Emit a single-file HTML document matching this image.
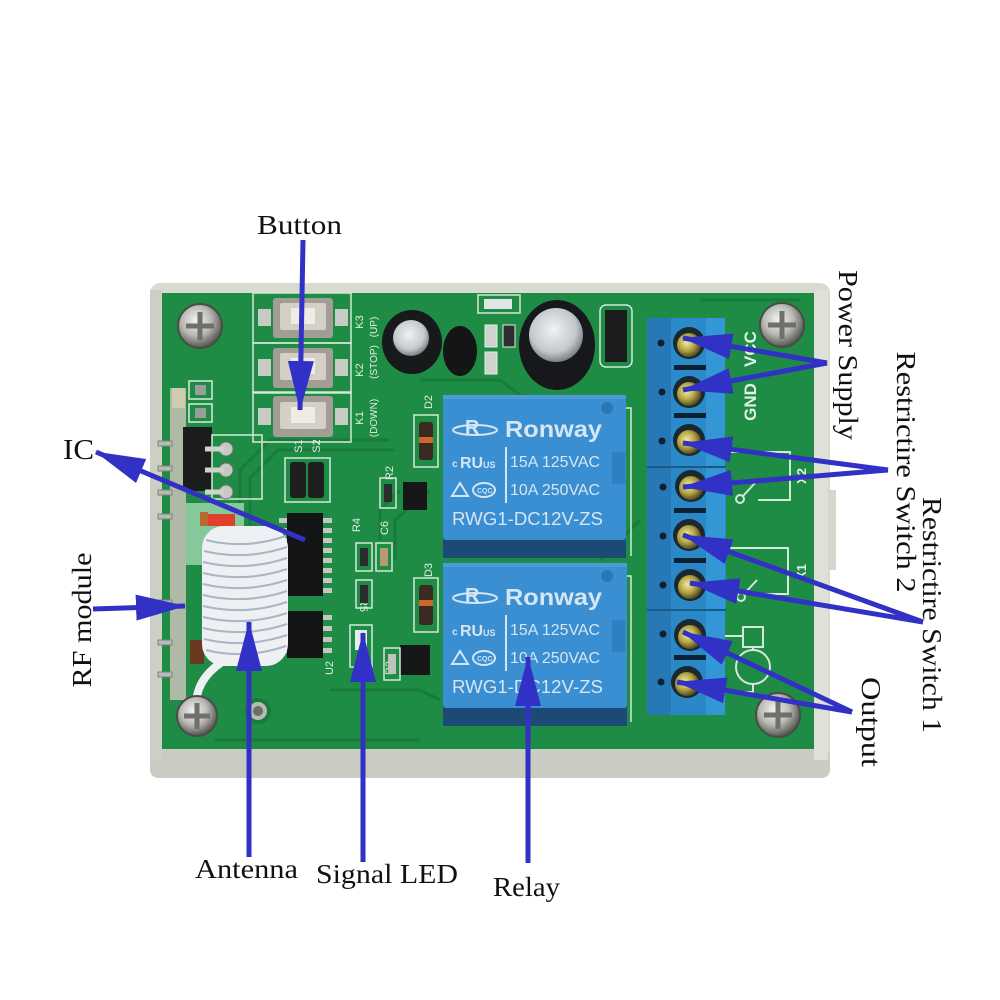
<!DOCTYPE html>
<html><head><meta charset="utf-8">
<style>html,body{margin:0;padding:0;background:#fff;width:1000px;height:1000px;overflow:hidden}svg{display:block}</style>
</head>
<body>
<svg width="1000" height="1000" viewBox="0 0 1000 1000" xmlns="http://www.w3.org/2000/svg">
<defs>
<radialGradient id="screw" cx="42%" cy="38%" r="62%"><stop offset="0" stop-color="#f4f4f2"/><stop offset="0.55" stop-color="#b9b9b4"/><stop offset="1" stop-color="#55554f"/></radialGradient>
<radialGradient id="gold" cx="40%" cy="40%" r="62%"><stop offset="0" stop-color="#f2ea9a"/><stop offset="0.55" stop-color="#b4a444"/><stop offset="1" stop-color="#4c4620"/></radialGradient>
<radialGradient id="capTop" cx="45%" cy="40%" r="60%"><stop offset="0" stop-color="#f0f2f4"/><stop offset="0.7" stop-color="#c4c8cc"/><stop offset="1" stop-color="#7c8086"/></radialGradient>
<marker id="ah" viewBox="0 0 50 26" refX="49" refY="13" markerWidth="50" markerHeight="26" orient="auto" markerUnits="userSpaceOnUse"><path d="M0,0L50,13L0,26z" fill="#3131c6"/></marker>
</defs>

<!-- enclosure -->
<rect x="150" y="283" width="680" height="495" rx="10" fill="#d8dbd0"/>
<rect x="826" y="490" width="10" height="80" fill="#d4d7cc"/>
<rect x="150" y="748" width="680" height="30" rx="8" fill="#c9ccc2"/>
<rect x="150" y="290" width="12" height="470" fill="#cbcfc4"/>
<rect x="814" y="290" width="14" height="470" fill="#dfe1d8"/>

<!-- PCB -->
<rect x="162" y="293" width="652" height="456" fill="#1e8c44"/>
<g stroke="#187b3a" stroke-width="3" fill="none">
<path d="M240,520 L240,470 L270,440 L390,440"/>
<path d="M250,530 L250,478 L278,450 L395,450"/>
<path d="M380,540 L380,510 L400,490"/>
<path d="M395,560 L395,520 L430,490"/>
<path d="M330,690 L420,690 L440,700"/>
<path d="M600,560 L640,520"/>
<path d="M420,380 L500,380 L520,395"/>
<path d="M700,300 L800,300"/>
<path d="M215,740 L420,740"/>
</g>

<!-- RF module side strip -->
<rect x="170" y="388" width="16" height="312" fill="#aebaa6"/>
<rect x="172" y="388" width="13" height="20" fill="#cfcbb0"/>
<g fill="#b8bab6" stroke="#7f837e" stroke-width="1">
<rect x="158" y="441" width="14" height="5"/><rect x="158" y="466" width="14" height="5"/>
<rect x="158" y="490" width="14" height="5"/><rect x="158" y="514" width="14" height="5"/>
<rect x="158" y="600" width="14" height="5"/><rect x="158" y="640" width="14" height="5"/>
<rect x="158" y="672" width="14" height="5"/>
</g>
<!-- pads top left -->
<rect x="189" y="381" width="23" height="18" fill="none" stroke="#d9eadc" stroke-width="1.5"/>
<rect x="195" y="385" width="11" height="10" fill="#9a9e98"/>
<rect x="189" y="404" width="23" height="18" fill="none" stroke="#d9eadc" stroke-width="1.5"/>
<rect x="195" y="408" width="11" height="10" fill="#9a9e98"/>
<!-- header -->
<rect x="183" y="427" width="29" height="64" fill="#1b1d1c"/>
<rect x="212" y="435" width="50" height="64" fill="none" stroke="#d9eadc" stroke-width="1.5"/>
<g fill="#c6c8c2" stroke="#6e726d"><circle cx="226" cy="449" r="7"/><circle cx="226" cy="470" r="7"/><circle cx="226" cy="492" r="7"/></g>
<g stroke="#d0d2cc" stroke-width="5"><line x1="205" y1="449" x2="224" y2="449"/><line x1="205" y1="470" x2="224" y2="470"/><line x1="205" y1="492" x2="224" y2="492"/></g>
<!-- light green RF block -->
<rect x="186" y="503" width="58" height="62" fill="#84c89c"/>
<rect x="205" y="514" width="30" height="12" fill="#e0402a"/>
<rect x="200" y="512" width="8" height="14" fill="#b86a30"/>
<rect x="190" y="640" width="14" height="24" fill="#6a3a20"/>

<!-- buttons -->
<g>
<rect x="253" y="293" width="98" height="50" fill="none" stroke="#d6e8da" stroke-width="1.5"/>
<rect x="258" y="309" width="13" height="17" fill="#c8cac4"/><rect x="335" y="309" width="13" height="17" fill="#c8cac4"/>
<rect x="273" y="298" width="60" height="40" rx="3" fill="#a29e96"/>
<rect x="280" y="303" width="46" height="27" rx="2" fill="#d4d0c8"/>
<rect x="291" y="308" width="24" height="16" fill="#efebe5"/>
</g>
<g>
<rect x="253" y="343" width="98" height="50" fill="none" stroke="#d6e8da" stroke-width="1.5"/>
<rect x="258" y="359" width="13" height="17" fill="#c8cac4"/><rect x="335" y="359" width="13" height="17" fill="#c8cac4"/>
<rect x="273" y="348" width="60" height="40" rx="3" fill="#a29e96"/>
<rect x="280" y="353" width="46" height="27" rx="2" fill="#d4d0c8"/>
<rect x="291" y="358" width="24" height="16" fill="#efebe5"/>
</g>
<g>
<rect x="253" y="392" width="98" height="50" fill="none" stroke="#d6e8da" stroke-width="1.5"/>
<rect x="258" y="408" width="13" height="17" fill="#c8cac4"/><rect x="335" y="408" width="13" height="17" fill="#c8cac4"/>
<rect x="273" y="396" width="60" height="41" rx="3" fill="#a29e96"/>
<rect x="280" y="402" width="46" height="27" rx="2" fill="#d4d0c8"/>
<rect x="291" y="407" width="24" height="16" fill="#efebe5"/>
</g>
<g font-family="Liberation Sans, sans-serif" font-size="11" fill="#e2f0e5" text-anchor="middle">
<text transform="translate(363,322) rotate(-90)">K3</text>
<text transform="translate(377,327) rotate(-90)" font-size="10">(UP)</text>
<text transform="translate(363,370) rotate(-90)">K2</text>
<text transform="translate(377,362) rotate(-90)" font-size="10">(STOP)</text>
<text transform="translate(363,418) rotate(-90)">K1</text>
<text transform="translate(377,418) rotate(-90)" font-size="10">(DOWN)</text>
<text transform="translate(302,446) rotate(-90)">S1</text>
<text transform="translate(320,446) rotate(-90)">S2</text>
<text transform="translate(360,525) rotate(-90)">R4</text>
<text transform="translate(388,528) rotate(-90)">C6</text>
<text transform="translate(360,605) rotate(90)">R5</text>
<text transform="translate(333,668) rotate(-90)">U2</text>
<text transform="translate(432,402) rotate(-90)">D2</text>
<text transform="translate(432,570) rotate(-90)">D3</text>
<text transform="translate(393,668) rotate(-90)">R3</text>
<text transform="translate(393,473) rotate(-90)">R2</text>
</g>

<!-- jumpers -->
<rect x="285" y="458" width="45" height="44" fill="none" stroke="#d6e8da" stroke-width="1.5"/>
<rect x="290" y="462" width="16" height="36" rx="3" fill="#1c1e20"/>
<rect x="308" y="462" width="16" height="36" rx="3" fill="#1c1e20"/>

<!-- top components -->
<ellipse cx="412" cy="342" rx="30" ry="32" fill="#17191b"/>
<circle cx="411" cy="338" r="18" fill="url(#capTop)"/>
<ellipse cx="460" cy="351" rx="17" ry="25" fill="#141517"/>
<rect x="478" y="295" width="42" height="18" fill="none" stroke="#d6e8da" stroke-width="1.5"/>
<rect x="484" y="299" width="28" height="10" fill="#dfe4e4"/>
<rect x="485" y="325" width="12" height="22" fill="#d0d2cc" stroke="#e2efe6"/>
<rect x="485" y="352" width="12" height="22" fill="#d0d2cc" stroke="#e2efe6"/>
<rect x="503" y="325" width="12" height="22" fill="#2c2e30" stroke="#e2efe6"/>
<ellipse cx="557" cy="345" rx="38" ry="45" fill="#16181b"/>
<circle cx="556" cy="335" r="27" fill="url(#capTop)"/>
<rect x="600" y="305" width="32" height="62" rx="6" fill="none" stroke="#d6e8da" stroke-width="1.5"/>
<rect x="605" y="310" width="22" height="52" fill="#1a1c1e"/>

<!-- diodes / transistors -->
<rect x="414" y="415" width="24" height="52" fill="none" stroke="#d6e8da" stroke-width="1.5"/>
<rect x="419" y="422" width="14" height="38" rx="3" fill="#3a2a22"/><rect x="419" y="437" width="14" height="6" fill="#d2642c"/>
<rect x="414" y="578" width="24" height="54" fill="none" stroke="#d6e8da" stroke-width="1.5"/>
<rect x="419" y="585" width="14" height="40" rx="3" fill="#3a2a22"/><rect x="419" y="600" width="14" height="6" fill="#d2642c"/>
<rect x="380" y="478" width="16" height="30" fill="none" stroke="#d6e8da" stroke-width="1.5"/>
<rect x="384" y="484" width="8" height="18" fill="#2a2c2e"/>
<rect x="403" y="482" width="24" height="28" fill="#151618"/>
<rect x="400" y="645" width="30" height="30" fill="#151618"/>
<rect x="384" y="648" width="16" height="32" fill="none" stroke="#d6e8da" stroke-width="1.5"/>
<rect x="388" y="654" width="8" height="20" fill="#c0c2bc"/>
<!-- signal LED -->
<rect x="350" y="625" width="22" height="42" fill="none" stroke="#d6e8da" stroke-width="1.5"/>
<rect x="355" y="630" width="12" height="20" fill="#e8ecee"/>
<!-- small R/C -->
<rect x="356" y="543" width="16" height="28" fill="none" stroke="#d6e8da" stroke-width="1.5"/>
<rect x="360" y="548" width="8" height="18" fill="#2a2c2e"/>
<rect x="376" y="543" width="16" height="28" fill="none" stroke="#d6e8da" stroke-width="1.5"/>
<rect x="380" y="548" width="8" height="18" fill="#b89a70"/>
<rect x="356" y="580" width="16" height="28" fill="none" stroke="#d6e8da" stroke-width="1.5"/>
<rect x="360" y="585" width="8" height="18" fill="#2a2c2e"/>

<!-- ICs -->
<g fill="#c4c6c0">
<rect x="279" y="518" width="9" height="5"/><rect x="279" y="528" width="9" height="5"/><rect x="279" y="538" width="9" height="5"/><rect x="279" y="548" width="9" height="5"/>
<rect x="279" y="558" width="9" height="5"/><rect x="279" y="568" width="9" height="5"/><rect x="279" y="578" width="9" height="5"/><rect x="279" y="588" width="9" height="5"/>
<rect x="322" y="518" width="10" height="5"/><rect x="322" y="528" width="10" height="5"/><rect x="322" y="538" width="10" height="5"/><rect x="322" y="548" width="10" height="5"/>
<rect x="322" y="558" width="10" height="5"/><rect x="322" y="568" width="10" height="5"/><rect x="322" y="578" width="10" height="5"/><rect x="322" y="588" width="10" height="5"/>
<rect x="279" y="615" width="9" height="5"/><rect x="279" y="626" width="9" height="5"/><rect x="279" y="637" width="9" height="5"/><rect x="279" y="648" width="9" height="5"/>
<rect x="322" y="615" width="10" height="5"/><rect x="322" y="626" width="10" height="5"/><rect x="322" y="637" width="10" height="5"/><rect x="322" y="648" width="10" height="5"/>
</g>
<rect x="287" y="513" width="36" height="83" fill="#131416"/>
<rect x="287" y="611" width="36" height="47" fill="#131416"/>

<!-- coil antenna -->
<rect x="202" y="526" width="86" height="140" rx="22" fill="#eef0f3"/>
<g stroke="#a9b6c6" stroke-width="2" fill="none">
<path d="M206,540 Q245,550 286,536"/><path d="M204,551 Q245,561 287,547"/><path d="M203,562 Q245,572 287,558"/>
<path d="M203,573 Q245,583 287,569"/><path d="M203,584 Q245,594 287,580"/><path d="M203,595 Q245,605 287,591"/>
<path d="M203,606 Q245,616 287,602"/><path d="M203,617 Q245,627 287,613"/><path d="M203,628 Q245,638 287,624"/>
<path d="M204,639 Q245,649 287,635"/><path d="M206,650 Q245,660 286,646"/>
</g>
<path d="M222,662 Q195,680 196,708" stroke="#eef0f3" stroke-width="8" fill="none"/>

<!-- mounting hole -->
<circle cx="258" cy="711" r="13" fill="#1a7a3c"/>
<circle cx="258" cy="711" r="9" fill="#b8bab4"/>
<circle cx="258" cy="711" r="5" fill="#6a6e68"/>

<!-- screws -->
<g>
<circle cx="200" cy="326" r="22" fill="url(#screw)" stroke="#4a4c48" stroke-width="2"/>
<path d="M186,326 L214,326 M200,312 L200,340" stroke="#6e706c" stroke-width="5"/>
<circle cx="782" cy="325" r="22" fill="url(#screw)" stroke="#4a4c48" stroke-width="2"/>
<path d="M768,325 L796,325 M782,311 L782,339" stroke="#6e706c" stroke-width="5"/>
<circle cx="197" cy="716" r="20" fill="url(#screw)" stroke="#4a4c48" stroke-width="2"/>
<path d="M184,716 L210,716 M197,703 L197,729" stroke="#6e706c" stroke-width="5"/>
<circle cx="778" cy="715" r="22" fill="url(#screw)" stroke="#4a4c48" stroke-width="2"/>
<path d="M764,715 L792,715 M778,701 L778,729" stroke="#6e706c" stroke-width="5"/>
</g>

<!-- relay outlines -->
<path d="M626,408 L631,408 L631,556" stroke="#d6e8da" stroke-width="1.5" fill="none"/>
<path d="M626,576 L631,576 L631,722" stroke="#d6e8da" stroke-width="1.5" fill="none"/>

<!-- relays -->
<g id="relay1">
<rect x="443" y="536" width="183" height="22" fill="#1c4a74"/>
<rect x="443" y="395" width="183" height="145" rx="3" fill="#3a8fd2"/>
<rect x="443" y="395" width="183" height="4" fill="#4b9bdc"/>
<circle cx="607" cy="408" r="6" fill="#2b77b6"/>
<rect x="612" y="452" width="13" height="32" fill="#2f7fc2"/>
<g fill="#d6e5f2" font-family="Liberation Sans, sans-serif">
<ellipse cx="475" cy="430" rx="22" ry="5" fill="none" stroke="#d6e5f2" stroke-width="2"/>
<text x="465" y="434" font-size="20" font-weight="bold">R</text>
<text x="505" y="437" font-size="23" font-weight="bold" textLength="97" lengthAdjust="spacingAndGlyphs">Ronway</text>
<text x="452" y="467" font-size="10" font-weight="bold">c</text>
<text x="460" y="468" font-size="16" font-weight="bold">RU</text>
<text x="483" y="468" font-size="9" font-weight="bold">US</text>
<path d="M452,496 L460,483 L468,496 Z" fill="none" stroke="#d6e5f2" stroke-width="2"/>
<ellipse cx="484" cy="490" rx="11" ry="7" fill="none" stroke="#d6e5f2" stroke-width="2"/>
<text x="477" y="493" font-size="7" font-weight="bold">CQC</text>
<rect x="505" y="447" width="2" height="56"/>
<text x="510" y="467" font-size="16" textLength="90" lengthAdjust="spacingAndGlyphs">15A 125VAC</text>
<text x="510" y="495" font-size="16" textLength="90" lengthAdjust="spacingAndGlyphs">10A 250VAC</text>
<text x="452" y="525" font-size="18" textLength="151" lengthAdjust="spacingAndGlyphs">RWG1-DC12V-ZS</text>
</g>
</g>
<g transform="translate(0,168)">
<rect x="443" y="536" width="184" height="22" fill="#1c4a74"/>
<rect x="443" y="395" width="184" height="145" rx="3" fill="#3a8fd2"/>
<rect x="443" y="395" width="184" height="4" fill="#4b9bdc"/>
<circle cx="607" cy="408" r="6" fill="#2b77b6"/>
<rect x="612" y="452" width="13" height="32" fill="#2f7fc2"/>
<g fill="#d6e5f2" font-family="Liberation Sans, sans-serif">
<ellipse cx="475" cy="430" rx="22" ry="5" fill="none" stroke="#d6e5f2" stroke-width="2"/>
<text x="465" y="434" font-size="20" font-weight="bold">R</text>
<text x="505" y="437" font-size="23" font-weight="bold" textLength="97" lengthAdjust="spacingAndGlyphs">Ronway</text>
<text x="452" y="467" font-size="10" font-weight="bold">c</text>
<text x="460" y="468" font-size="16" font-weight="bold">RU</text>
<text x="483" y="468" font-size="9" font-weight="bold">US</text>
<path d="M452,496 L460,483 L468,496 Z" fill="none" stroke="#d6e5f2" stroke-width="2"/>
<ellipse cx="484" cy="490" rx="11" ry="7" fill="none" stroke="#d6e5f2" stroke-width="2"/>
<text x="477" y="493" font-size="7" font-weight="bold">CQC</text>
<rect x="505" y="447" width="2" height="56"/>
<text x="510" y="467" font-size="16" textLength="90" lengthAdjust="spacingAndGlyphs">15A 125VAC</text>
<text x="510" y="495" font-size="16" textLength="90" lengthAdjust="spacingAndGlyphs">10A 250VAC</text>
<text x="452" y="525" font-size="18" textLength="151" lengthAdjust="spacingAndGlyphs">RWG1-DC12V-ZS</text>
</g>
</g>

<!-- silkscreen right -->
<g stroke="#d6e8da" stroke-width="2" fill="none">
<path d="M727,452 L790,452 L790,500 L758,500"/>
<circle cx="740" cy="499" r="4"/><path d="M743,496 L756,482"/>
<path d="M727,548 L788,548 L788,594 L760,594"/>
<circle cx="741" cy="597" r="4"/><path d="M744,594 L757,580"/>
<circle cx="753" cy="667" r="17"/>
<rect x="743" y="627" width="20" height="20"/>
<path d="M722,636 L743,636 M722,692 L753,692 L753,684 M753,647 L753,650"/>
</g>
<g font-family="Liberation Sans, sans-serif" font-weight="bold" fill="#e4f1e8" font-size="17">
<text transform="translate(756,349) rotate(-90)" text-anchor="middle">VCC</text>
<text transform="translate(756,402) rotate(-90)" text-anchor="middle">GND</text>
<text transform="translate(806,476) rotate(-90)" text-anchor="middle" font-size="13">X2</text>
<text transform="translate(806,572) rotate(-90)" text-anchor="middle" font-size="13">X1</text>
</g>

<!-- terminal block -->
<rect x="647" y="318" width="78" height="150" fill="#2b8bca"/>
<rect x="648" y="467" width="78" height="143" fill="#2a88c6"/>
<rect x="648" y="610" width="76" height="105" fill="#2a88c6"/>
<rect x="647" y="318" width="24" height="397" fill="#2679b4"/>
<rect x="706" y="318" width="19" height="397" fill="#3497d5"/>
<rect x="647" y="466" width="79" height="2" fill="#1a5a88"/>
<rect x="647" y="609" width="79" height="2" fill="#1a5a88"/>
<g fill="#0c2232">
<rect x="674" y="365" width="32" height="5"/><rect x="674" y="413" width="32" height="5"/>
<rect x="674" y="508" width="32" height="5"/><rect x="674" y="558" width="32" height="5"/>
<rect x="674" y="655" width="32" height="5"/>
<circle cx="661" cy="343" r="3.5"/><circle cx="662" cy="392" r="3.5"/><circle cx="662" cy="441" r="3.5"/>
<circle cx="663" cy="487" r="3.5"/><circle cx="663" cy="536" r="3.5"/><circle cx="663" cy="585" r="3.5"/>
<circle cx="663" cy="634" r="3.5"/><circle cx="661" cy="682" r="3.5"/>
</g>
<g>
<circle cx="689" cy="343" r="16" fill="#1a2830"/><circle cx="689" cy="345" r="12" fill="url(#gold)"/>
<circle cx="689" cy="392" r="16" fill="#1a2830"/><circle cx="689" cy="394" r="12" fill="url(#gold)"/>
<circle cx="689" cy="440" r="16" fill="#1a2830"/><circle cx="689" cy="442" r="12" fill="url(#gold)"/>
<circle cx="691" cy="486" r="16" fill="#1a2830"/><circle cx="691" cy="488" r="12" fill="url(#gold)"/>
<circle cx="689" cy="535" r="16" fill="#1a2830"/><circle cx="689" cy="537" r="12" fill="url(#gold)"/>
<circle cx="690" cy="585" r="16" fill="#1a2830"/><circle cx="690" cy="587" r="12" fill="url(#gold)"/>
<circle cx="690" cy="635" r="16" fill="#1a2830"/><circle cx="690" cy="637" r="12" fill="url(#gold)"/>
<circle cx="687" cy="682" r="16" fill="#1a2830"/><circle cx="687" cy="684" r="12" fill="url(#gold)"/>
</g>

<!-- arrows -->
<g stroke="#3131c6" stroke-width="5" fill="none" marker-end="url(#ah)">
<line x1="303" y1="240" x2="300" y2="410"/>
<line x1="305" y1="540" x2="96" y2="452"/>
<line x1="93" y1="609" x2="185" y2="606"/>
<line x1="249" y1="857" x2="249" y2="622"/>
<line x1="363" y1="862" x2="363" y2="633"/>
<line x1="528" y1="863" x2="528" y2="657"/>
<line x1="827" y1="363" x2="683" y2="338"/>
<line x1="827" y1="363" x2="683" y2="390"/>
<line x1="888" y1="470" x2="683" y2="443"/>
<line x1="888" y1="470" x2="683" y2="487"/>
<line x1="923" y1="622" x2="683" y2="535"/>
<line x1="923" y1="622" x2="690" y2="583"/>
<line x1="852" y1="712" x2="683" y2="632"/>
<line x1="852" y1="712" x2="677" y2="682"/>
</g>

<!-- labels -->
<g font-family="Liberation Serif, serif" fill="#111" font-size="27">
<text x="257" y="234" textLength="85" lengthAdjust="spacingAndGlyphs">Button</text>
<text x="63" y="459" font-size="28" textLength="31" lengthAdjust="spacingAndGlyphs">IC</text>
<text transform="translate(91,620) rotate(-90)" text-anchor="middle" textLength="135" lengthAdjust="spacingAndGlyphs">RF module</text>
<text x="195" y="878" textLength="103" lengthAdjust="spacingAndGlyphs">Antenna</text>
<text x="316" y="883" textLength="142" lengthAdjust="spacingAndGlyphs">Signal LED</text>
<text x="493" y="896" textLength="67" lengthAdjust="spacingAndGlyphs">Relay</text>
<text transform="translate(839,355) rotate(90)" text-anchor="middle" textLength="170" lengthAdjust="spacingAndGlyphs">Power Supply</text>
<text transform="translate(897,472) rotate(90)" text-anchor="middle" textLength="241" lengthAdjust="spacingAndGlyphs">Restrictire Switch 2</text>
<text transform="translate(923,615) rotate(90)" text-anchor="middle" textLength="236" lengthAdjust="spacingAndGlyphs">Restrictire Switch 1</text>
<text transform="translate(862,722) rotate(90)" text-anchor="middle" textLength="90" lengthAdjust="spacingAndGlyphs">Output</text>
</g>
</svg>
</body>
</html>
